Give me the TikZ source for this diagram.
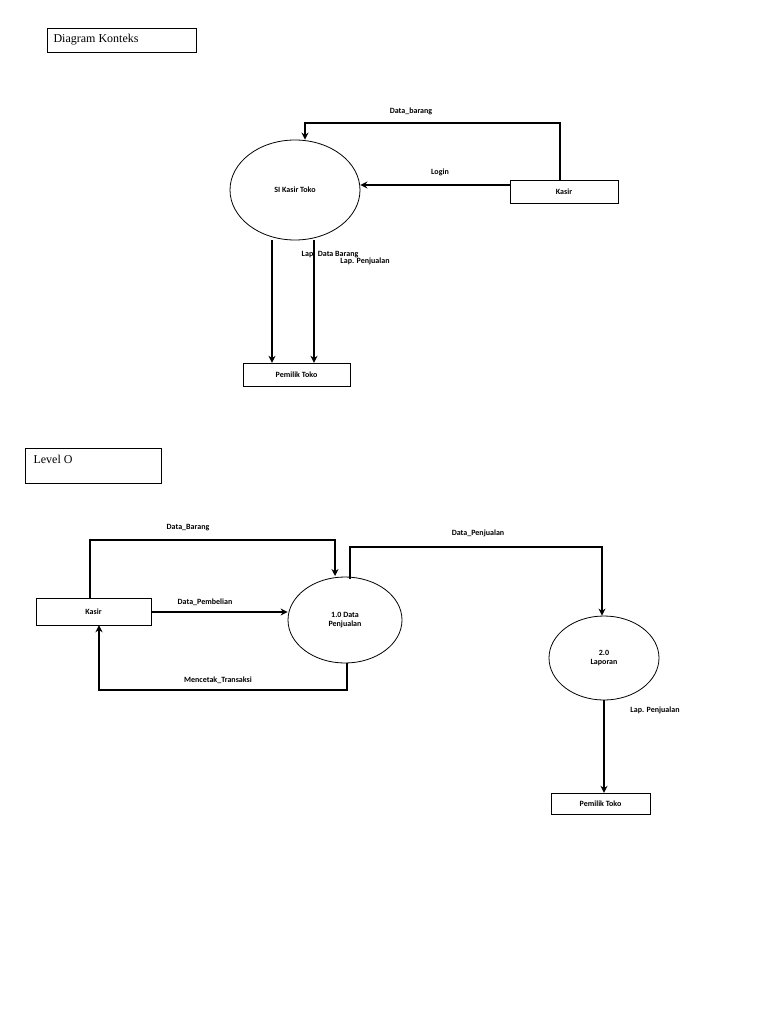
\documentclass[tikz,border=0pt]{standalone}
\usepackage{fontspec}
\setmainfont{Carlito}
\newfontfamily\titlefont{Liberation Serif}
\usetikzlibrary{arrows.meta,positioning,shapes.geometric}
\begin{document}
\begin{tikzpicture}[x=1pt,y=-1pt,
    entity/.style={draw,thin,rectangle,inner sep=0pt,font=\footnotesize\bfseries},
    process/.style={draw,thick,ellipse,inner sep=0pt,align=center,font=\footnotesize\bfseries},
    title/.style={draw,thin,rectangle,inner sep=0pt,font=\titlefont\large},
    flow/.style={line width=2.2pt,-{Stealth[length=7pt,width=7pt]}},
    lbl/.style={font=\footnotesize\bfseries,inner sep=1pt}
    ]
  \useasboundingbox (0,0) rectangle (768,1024);

  % Diagram Konteks
  \node(titleKonteks) [title,minimum width=149pt,minimum height=24pt] at (121.5,40) {};
  \node [right,font=\titlefont\large] at (50,40) {Diagram Konteks};

  \node(sistem) [process,minimum width=130pt,minimum height=100pt] at (295,190) {SI Kasir Toko};
  \node(kasir1) [entity,minimum width=108pt,minimum height=23pt] at (564,191.5) {Kasir};
  \node(pemilik1) [entity,minimum width=107pt,minimum height=23pt] at (296.5,374.5) {Pemilik Toko};

  \coordinate(a1) at (560,123);
  \coordinate(b1) at (305,123);
  \draw[flow] (kasir1.north -| a1) -- (a1) -- (b1) -- (b1 |- sistem.north);
  \node [lbl] at (411,111) {Data\_barang};

  \draw[flow] (kasir1.west |- 0,185) -- (sistem.east |- 0,185);
  \node [lbl] at (440,172) {Login};

  \coordinate(f1) at (272,240);
  \coordinate(f2) at (314,240);
  \draw[flow] (f1) -- (f1 |- pemilik1.north);
  \draw[flow] (f2) -- (f2 |- pemilik1.north);
  \node [lbl] at (330,255) {Lap. Data Barang};
  \node [lbl] at (365,261) {Lap. Penjualan};

  % Level 0
  \node(titleLevel) [title,minimum width=136pt,minimum height=35pt] at (93,465.5) {};
  \node [right,font=\titlefont\large] at (30,459) {Level O};

  \node(kasir2) [entity,minimum width=115pt,minimum height=27pt] at (93.5,611.5) {Kasir};
  \node(proses1) [process,minimum width=114pt,minimum height=86pt] at (345,620) {1.0 Data\\Penjualan};
  \node(proses2) [process,minimum width=110pt,minimum height=84pt] at (604,658) {2.0\\Laporan};
  \node(pemilik2) [entity,minimum width=99pt,minimum height=21pt] at (600.5,803.5) {Pemilik Toko};

  \coordinate(c1) at (90,540);
  \coordinate(c2) at (335,540);
  \draw[flow] (kasir2.north -| c1) -- (c1) -- (c2) -- (335,576);
  \node [lbl] at (188,528) {Data\_Barang};

  \draw[flow] (kasir2.east |- 0,612) -- (proses1.west |- 0,612);
  \node [lbl] at (205,602) {Data\_Pembelian};

  \coordinate(d1) at (347,690);
  \coordinate(d2) at (99,690);
  \draw[flow] (proses1.south -| d1) -- (d1) -- (d2) -- (kasir2.south -| d2);
  \node [lbl] at (218,680) {Mencetak\_Transaksi};

  \coordinate(e1) at (350,547);
  \coordinate(e2) at (602,547);
  \draw[flow] (350,579) -- (e1) -- (e2) -- (proses2.north -| e2);
  \node [lbl] at (478,533) {Data\_Penjualan};

  \draw[flow] (proses2.south) -- (pemilik2.north -| proses2.south);
  \node [lbl] at (655,710) {Lap. Penjualan};
\end{tikzpicture}
\end{document}
